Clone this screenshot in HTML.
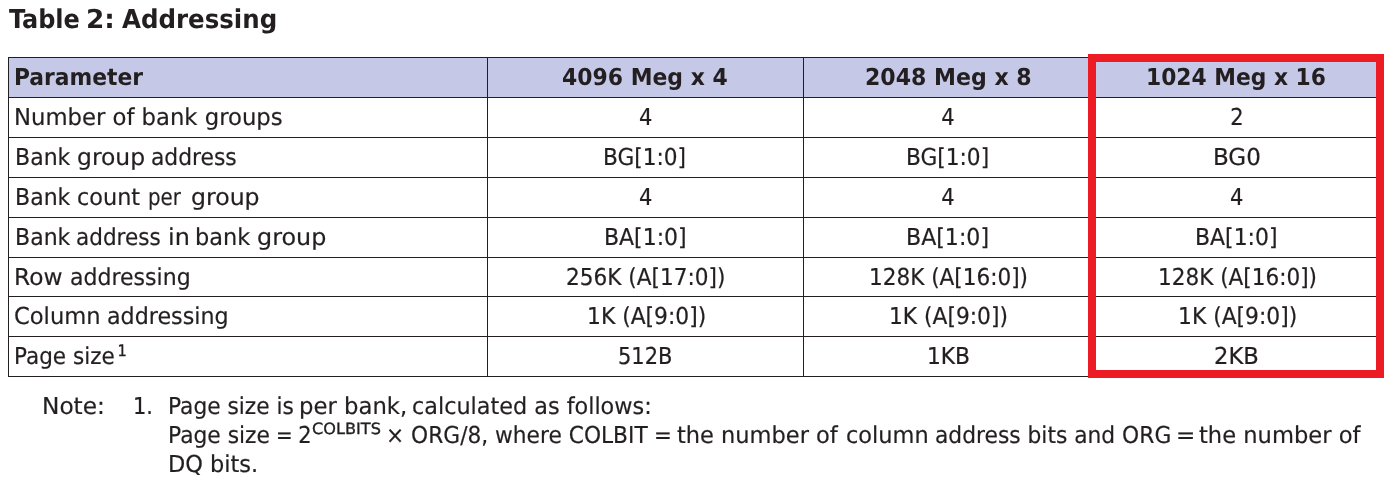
<!DOCTYPE html>
<html lang="en">
<head>
<meta charset="utf-8">
<title>Table 2: Addressing</title>
<style>
html,body{margin:0;padding:0;background:#fff;}
body{width:1393px;height:489px;box-sizing:border-box;padding:57px 0 0 8px;position:relative;overflow:hidden;color:#231f20;text-rendering:geometricPrecision;font-family:"DejaVu Sans","Liberation Sans",sans-serif;}
/* every text run is placed on the page grid and width-fitted with scaleX */
.t{position:absolute;display:block;white-space:nowrap;line-height:30px;height:30px;transform-origin:0 0;margin:0;font-weight:normal;}
.tx{font-family:"DejaVu Sans","Liberation Sans",sans-serif;-webkit-text-stroke:0.2px #231f20;}
.nx{font-family:"DejaVu Sans Condensed","DejaVu Sans","Liberation Sans",sans-serif;-webkit-text-stroke:0.2px #231f20;}
.hb,.tb{font-family:"DejaVu Sans Condensed","DejaVu Sans","Liberation Sans",sans-serif;font-weight:bold;}
sup{line-height:0;vertical-align:baseline;position:relative;}
sup.t{line-height:30px;position:absolute;-webkit-text-stroke:0.35px #231f20;}
.s1{font-size:15.8px;top:-8.5px;margin-left:3px;-webkit-text-stroke:0.35px #231f20;}
h1{position:absolute;left:0;top:0;margin:0;font-size:26px;}
table{width:1376px;margin:0;border-collapse:separate;border-spacing:0;table-layout:fixed;}
th,td{box-sizing:border-box;height:40px;padding:0;margin:0;border:0 solid #231f20;border-width:1px 0 0 1px;font-weight:normal;}
th{background:#c5c8e6;}
th:last-child,td:last-child{border-right-width:1px;}
tr.short td{height:39px;}
tbody tr:last-child td{height:41px;border-bottom-width:1px;}
.mark{position:absolute;left:1088px;top:54px;width:280px;height:308px;border:8px solid #ed1c24;}
</style>
</head>
<body>
<h1><span class="t tb" style="left:9.36px;top:5.00px;font-size:26.0px;transform:scaleX(1.0264)">Table</span> <span class="t tb" style="left:86.43px;top:5.00px;font-size:26.0px;transform:scaleX(1.1256)">2:</span> <span class="t tb" style="left:121.55px;top:5.00px;font-size:26.0px;transform:scaleX(1.0465)">Addressing</span></h1>
<table>
<colgroup><col style="width:479px"><col style="width:316px"><col style="width:289px"><col style="width:292px"></colgroup>
<thead>
<tr><th><span class="t hb" style="left:13.90px;top:63.00px;font-size:23.3px;transform:scaleX(1.0413)">Parameter</span></th><th><span class="t hb" style="left:561.96px;top:63.00px;font-size:23.3px;transform:scaleX(1.0460)">4096 Meg x 4</span></th><th><span class="t hb" style="left:864.74px;top:63.00px;font-size:23.3px;transform:scaleX(1.0523)">2048 Meg x 8</span></th><th><span class="t hb" style="left:1146.46px;top:63.00px;font-size:23.3px;transform:scaleX(1.0404)">1024 Meg x 16</span></th></tr>
</thead>
<tbody>
<tr><td><span class="t tx" style="left:13.78px;top:103.00px;font-size:23.3px;transform:scaleX(0.9752)">Number of bank groups</span></td><td><span class="t nx" style="left:638.90px;top:103.00px;font-size:23.3px;transform:scaleX(1.0000)">4</span></td><td><span class="t nx" style="left:941.32px;top:103.00px;font-size:23.3px;transform:scaleX(1.0000)">4</span></td><td><span class="t nx" style="left:1230.29px;top:103.00px;font-size:23.3px;transform:scaleX(1.0000)">2</span></td></tr>
<tr><td><span class="t tx" style="left:14.62px;top:143.00px;font-size:23.3px;transform:scaleX(0.9466)">Bank</span> <span class="t tx" style="left:76.94px;top:143.00px;font-size:23.3px;transform:scaleX(1.0070)">group</span> <span class="t tx" style="left:151.22px;top:143.00px;font-size:23.3px;transform:scaleX(0.9367)">address</span></td><td><span class="t nx" style="left:603.45px;top:143.00px;font-size:23.3px;transform:scaleX(1.0329)">BG[1:0]</span></td><td><span class="t nx" style="left:906.40px;top:143.00px;font-size:23.3px;transform:scaleX(1.0349)">BG[1:0]</span></td><td><span class="t nx" style="left:1213.02px;top:143.00px;font-size:23.3px;transform:scaleX(1.0984)">BG0</span></td></tr>
<tr><td><span class="t tx" style="left:14.62px;top:183.00px;font-size:23.3px;transform:scaleX(0.9466)">Bank</span> <span class="t tx" style="left:77.00px;top:183.00px;font-size:23.3px;transform:scaleX(0.9598)">count</span> <span class="t tx" style="left:147.91px;top:183.00px;font-size:23.3px;transform:scaleX(0.8478)">per</span> <span class="t tx" style="left:190.64px;top:183.00px;font-size:23.3px;transform:scaleX(1.0141)">group</span></td><td><span class="t nx" style="left:638.90px;top:183.00px;font-size:23.3px;transform:scaleX(1.0000)">4</span></td><td><span class="t nx" style="left:941.32px;top:183.00px;font-size:23.3px;transform:scaleX(1.0000)">4</span></td><td><span class="t nx" style="left:1230.04px;top:183.00px;font-size:23.3px;transform:scaleX(1.0000)">4</span></td></tr>
<tr><td><span class="t tx" style="left:14.62px;top:223.00px;font-size:23.3px;transform:scaleX(0.9466)">Bank</span> <span class="t tx" style="left:76.21px;top:223.00px;font-size:23.3px;transform:scaleX(0.9250)">address</span> <span class="t tx" style="left:167.71px;top:223.00px;font-size:23.3px;transform:scaleX(1.0280)">in</span> <span class="t tx" style="left:195.05px;top:223.00px;font-size:23.3px;transform:scaleX(0.9642)">bank</span> <span class="t tx" style="left:257.03px;top:223.00px;font-size:23.3px;transform:scaleX(1.0238)">group</span></td><td><span class="t nx" style="left:603.84px;top:223.00px;font-size:23.3px;transform:scaleX(1.0488)">BA[1:0]</span></td><td><span class="t nx" style="left:906.38px;top:223.00px;font-size:23.3px;transform:scaleX(1.0533)">BA[1:0]</span></td><td><span class="t nx" style="left:1195.49px;top:223.00px;font-size:23.3px;transform:scaleX(1.0472)">BA[1:0]</span></td></tr>
<tr class="short"><td><span class="t tx" style="left:13.99px;top:263.00px;font-size:23.3px;transform:scaleX(1.0003)">Row</span> <span class="t tx" style="left:70.49px;top:263.00px;font-size:23.3px;transform:scaleX(0.9456)">addressing</span></td><td><span class="t nx" style="left:566.18px;top:263.00px;font-size:23.3px;transform:scaleX(1.0316)">256K (A[17:0])</span></td><td><span class="t nx" style="left:868.66px;top:263.00px;font-size:23.3px;transform:scaleX(1.0291)">128K (A[16:0])</span></td><td><span class="t nx" style="left:1157.66px;top:263.00px;font-size:23.3px;transform:scaleX(1.0291)">128K (A[16:0])</span></td></tr>
<tr><td><span class="t tx" style="left:14.20px;top:302.00px;font-size:23.3px;transform:scaleX(0.9705)">Column</span> <span class="t tx" style="left:106.96px;top:302.00px;font-size:23.3px;transform:scaleX(0.9534)">addressing</span></td><td><span class="t nx" style="left:586.50px;top:302.00px;font-size:23.3px;transform:scaleX(1.0417)">1K (A[9:0])</span></td><td><span class="t nx" style="left:889.33px;top:302.00px;font-size:23.3px;transform:scaleX(1.0384)">1K (A[9:0])</span></td><td><span class="t nx" style="left:1177.50px;top:302.00px;font-size:23.3px;transform:scaleX(1.0417)">1K (A[9:0])</span></td></tr>
<tr><td><span class="t tx" style="left:14.25px;top:342.00px;font-size:23.3px;transform:scaleX(0.9238)">Page size<sup class="s1">1</sup></span></td><td><span class="t nx" style="left:617.69px;top:342.00px;font-size:23.3px;transform:scaleX(1.0009)">512B</span></td><td><span class="t nx" style="left:927.43px;top:342.00px;font-size:23.3px;transform:scaleX(1.0386)">1KB</span></td><td><span class="t nx" style="left:1214.38px;top:342.00px;font-size:23.3px;transform:scaleX(1.0796)">2KB</span></td></tr>
</tbody>
</table>
<div class="mark"></div>
<div class="notes">
<span class="t tx" style="left:42.20px;top:392.00px;font-size:23.3px;transform:scaleX(0.9972)">Note:</span> <span class="t nx" style="left:133.02px;top:392.00px;font-size:23.3px;transform:scaleX(1.0000)">1.</span>
<span class="t tx" style="left:168.28px;top:392.00px;font-size:23.3px;transform:scaleX(0.9325)">Page size is</span> <span class="t tx" style="left:299.20px;top:392.00px;font-size:23.3px;transform:scaleX(0.9762)">per bank,</span> <span class="t tx" style="left:412.21px;top:392.00px;font-size:23.3px;transform:scaleX(0.9585)">calculated as follows:</span>
<span class="t tx" style="left:168.05px;top:421.00px;font-size:23.3px;transform:scaleX(0.9352)">Page size</span> <span class="t tx" style="left:276.22px;top:421.00px;font-size:23.3px;transform:scaleX(0.8531)">=</span> <span class="t nx" style="left:298.20px;top:421.00px;font-size:23.3px;transform:scaleX(1.0000)">2</span><sup class="t tx" style="left:311.97px;top:414.30px;font-size:15.5px;transform:scaleX(1.0411)">COLBITS</sup> <span class="t tx" style="left:385.85px;top:421.00px;font-size:23.3px;transform:scaleX(0.9325)">× ORG/8, where COLBIT</span> <span class="t tx" style="left:653.72px;top:421.00px;font-size:23.3px;transform:scaleX(0.9119)">=</span> <span class="t tx" style="left:677.08px;top:421.00px;font-size:23.3px;transform:scaleX(0.9657)">the number of</span> <span class="t tx" style="left:845.58px;top:421.00px;font-size:23.3px;transform:scaleX(0.9637)">column</span> <span class="t tx" style="left:934.97px;top:421.00px;font-size:23.3px;transform:scaleX(0.9350)">address bits and ORG</span> <span class="t tx" style="left:1176.23px;top:421.00px;font-size:23.3px;transform:scaleX(0.9883)">=</span> <span class="t tx" style="left:1199.25px;top:421.00px;font-size:23.3px;transform:scaleX(0.9702)">the number of</span>
<span class="t tx" style="left:167.95px;top:450.00px;font-size:23.3px;transform:scaleX(0.9634)">DQ bits.</span>
</div>
</body>
</html>
